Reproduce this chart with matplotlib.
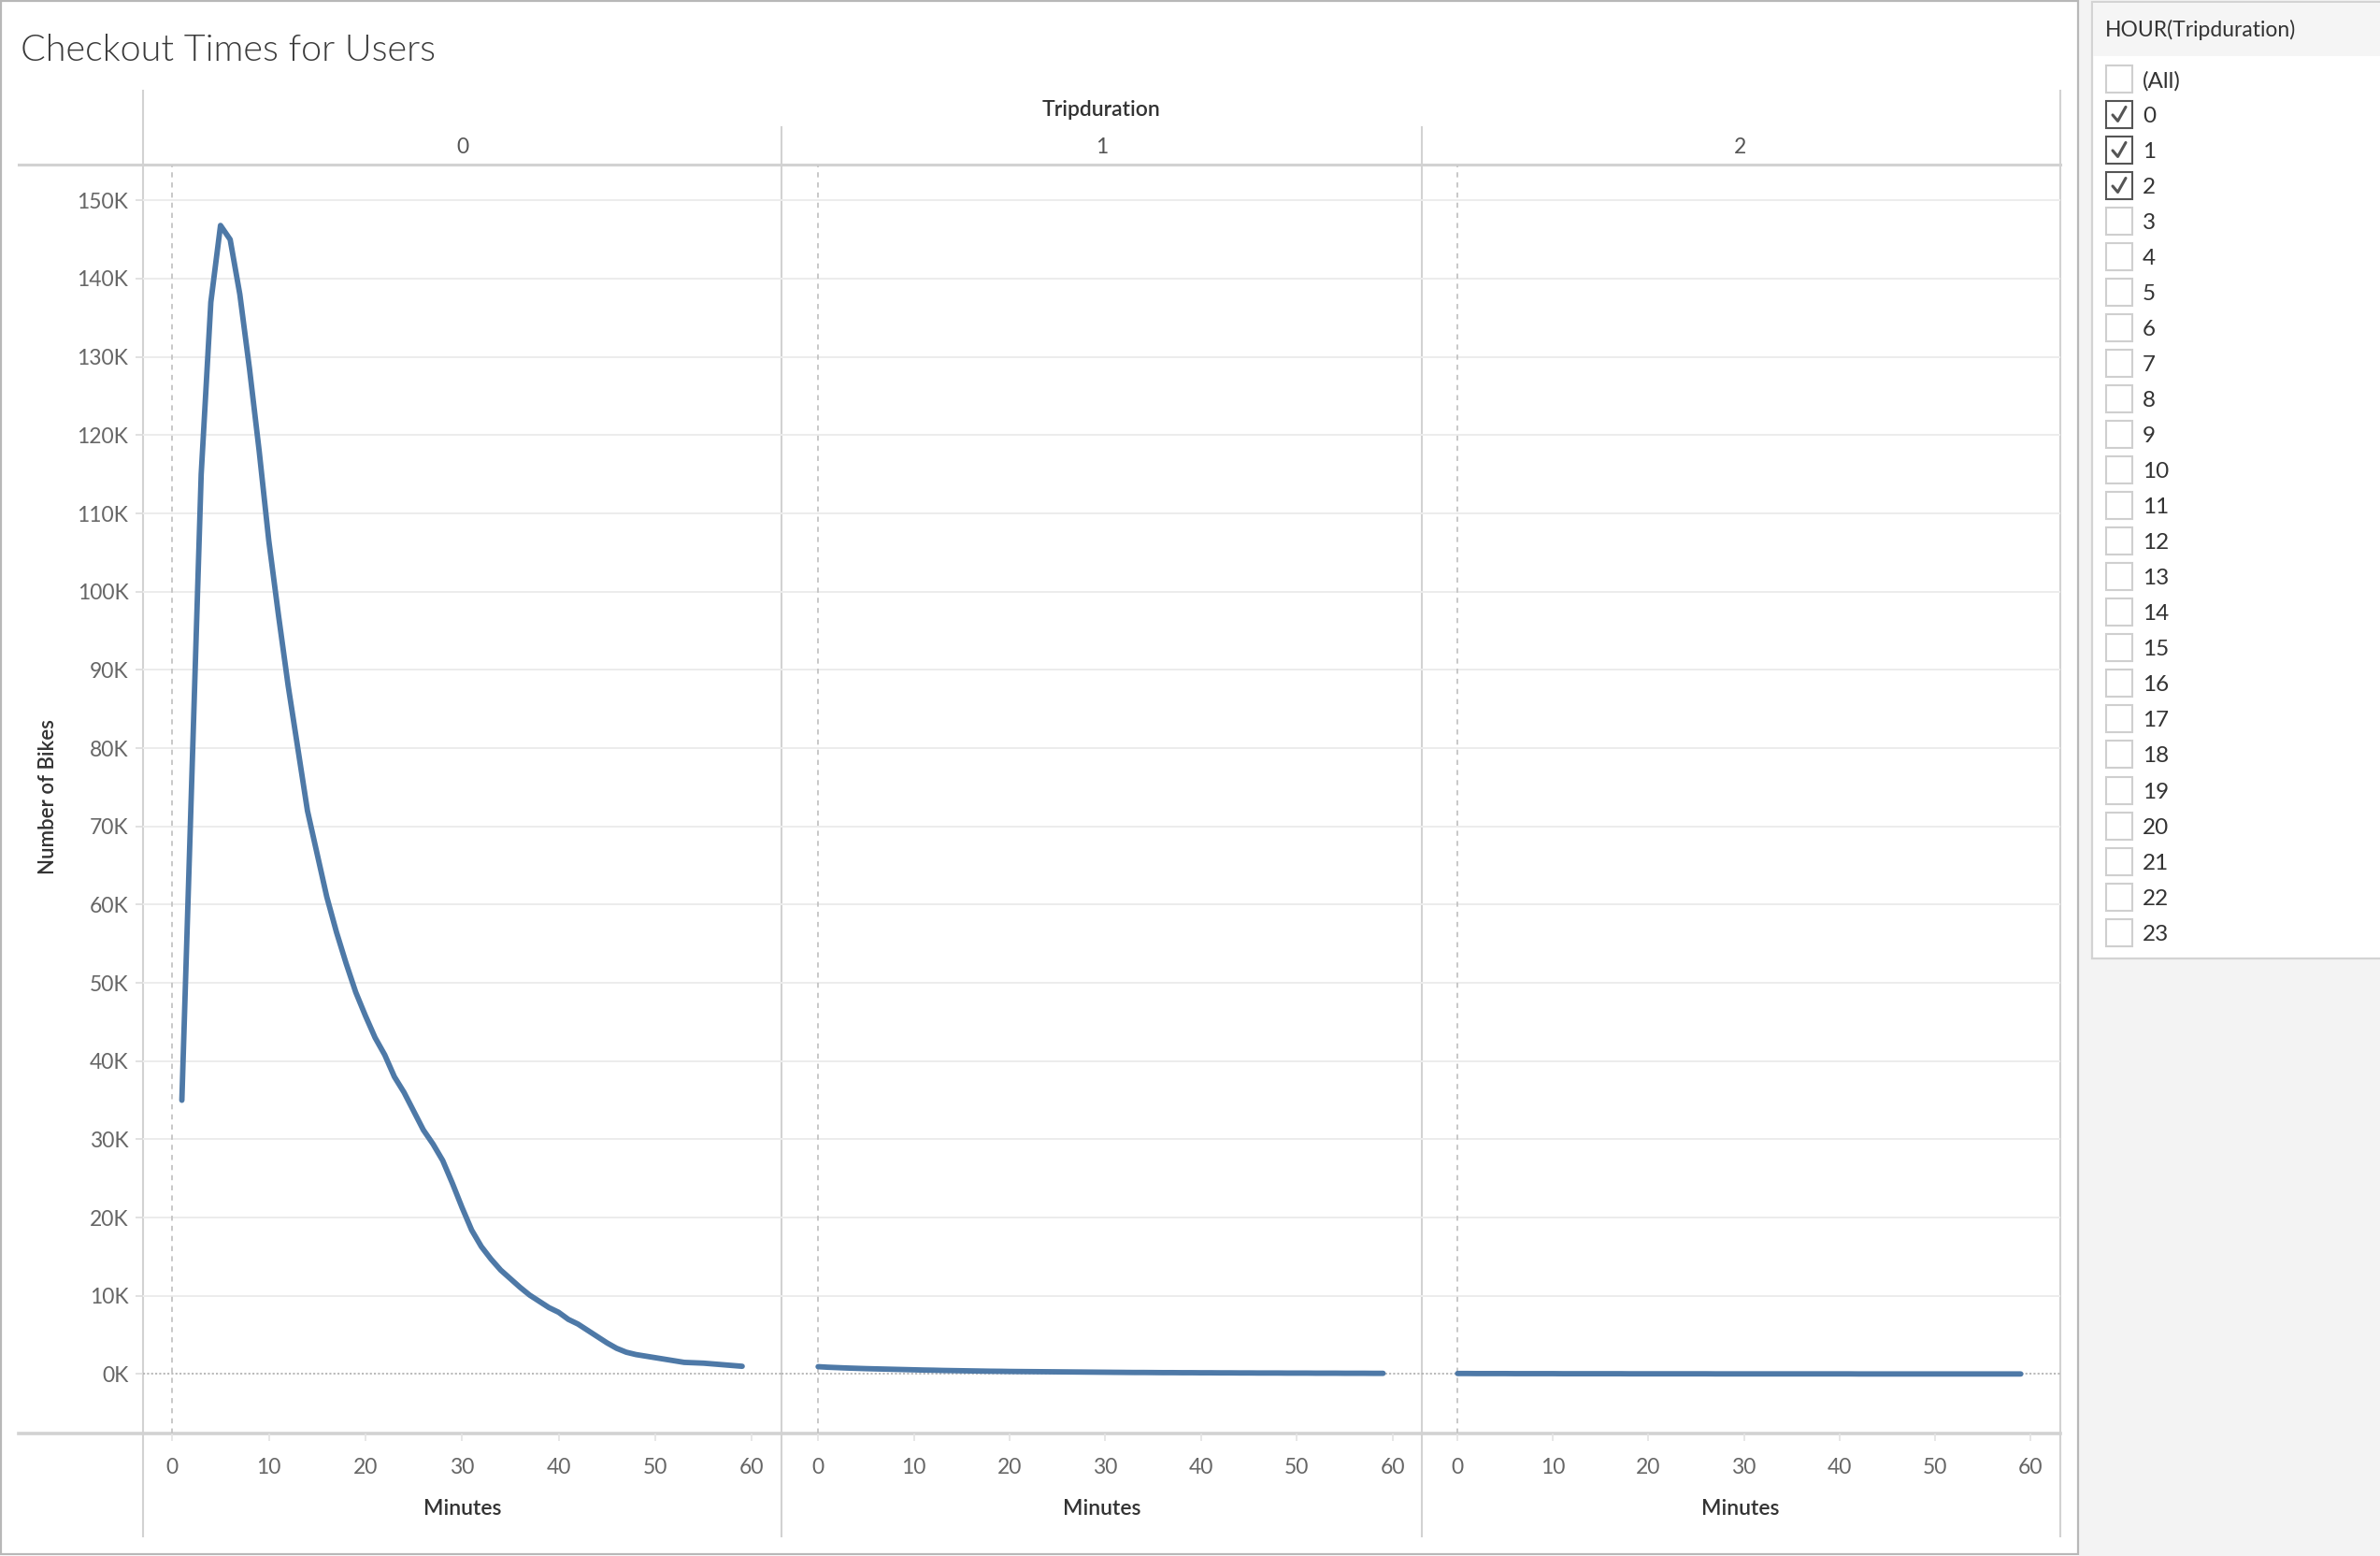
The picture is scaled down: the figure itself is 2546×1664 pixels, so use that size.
import matplotlib
matplotlib.use("Agg")
import matplotlib.pyplot as plt
from matplotlib.patches import Rectangle
from matplotlib.ticker import FuncFormatter

W, H = 2546, 1664
DPI = 100

# ---------------- data ----------------
title = "Checkout Times for Users"
facet_title = "Tripduration"
facets = ["0", "1", "2"]
x_label = "Minutes"
y_label = "Number of Bikes"
y_ticks_k = [0, 10, 20, 30, 40, 50, 60, 70, 80, 90, 100, 110, 120, 130, 140, 150]
x_ticks = [0, 10, 20, 30, 40, 50, 60]

minutes_h0 = list(range(1, 60))
bikes_h0_k = [35.0, 75.0, 115.0, 137.0, 146.8, 145.0, 138.0, 128.5, 118.0, 106.5,
              97.0, 88.0, 80.0, 72.0, 66.5, 61.0, 56.5, 52.5, 48.8, 45.8,
              43.0, 40.8, 38.0, 36.0, 33.6, 31.2, 29.4, 27.3, 24.4, 21.3,
              18.4, 16.3, 14.7, 13.3, 12.2, 11.1, 10.1, 9.3, 8.5, 7.9,
              7.0, 6.4, 5.6, 4.8, 4.0, 3.3, 2.8, 2.5, 2.3, 2.1,
              1.9, 1.7, 1.5, 1.45, 1.4, 1.3, 1.2, 1.1, 1.0]

minutes_h1 = list(range(0, 60))
bikes_h1_k = [0.95, 0.88, 0.83, 0.78, 0.74, 0.70, 0.67, 0.64, 0.61, 0.58,
              0.55, 0.52, 0.50, 0.47, 0.45, 0.43, 0.41, 0.39, 0.37, 0.36,
              0.34, 0.33, 0.32, 0.31, 0.30, 0.29, 0.28, 0.27, 0.26, 0.25,
              0.24, 0.23, 0.22, 0.21, 0.21, 0.20, 0.19, 0.19, 0.18, 0.18,
              0.17, 0.17, 0.16, 0.16, 0.15, 0.15, 0.14, 0.14, 0.14, 0.13,
              0.13, 0.13, 0.12, 0.12, 0.12, 0.11, 0.11, 0.11, 0.10, 0.10]

minutes_h2 = list(range(0, 60))
bikes_h2_k = [0.08, 0.08, 0.07, 0.07, 0.07, 0.07, 0.06, 0.06, 0.06, 0.06,
              0.06, 0.05, 0.05, 0.05, 0.05, 0.05, 0.05, 0.05, 0.04, 0.04,
              0.04, 0.04, 0.04, 0.04, 0.04, 0.04, 0.04, 0.03, 0.03, 0.03,
              0.03, 0.03, 0.03, 0.03, 0.03, 0.03, 0.03, 0.03, 0.03, 0.03,
              0.03, 0.03, 0.02, 0.02, 0.02, 0.02, 0.02, 0.02, 0.02, 0.02,
              0.02, 0.02, 0.02, 0.02, 0.02, 0.02, 0.02, 0.02, 0.02, 0.02]

filter_title = "HOUR(Tripduration)"
filter_items = ["(All)"] + [str(i) for i in range(24)]
filter_checked = ["0", "1", "2"]

# ---------------- style ----------------
FONT = ["Lato", "DejaVu Sans"]
plt.rcParams["font.family"] = FONT
LINE = "#4e79a7"
GRID = "#ececec"
SEP = "#d2d2d2"
TXT = "#333333"
TICK = "#666666"

fig = plt.figure(figsize=(W / DPI, H / DPI), dpi=DPI, facecolor="white")


def rect(x0, y0, x1, y1):
    return [x0 / W, 1 - y1 / H, (x1 - x0) / W, (y1 - y0) / H]


ov = fig.add_axes([0, 0, 1, 1], zorder=0)
ov.set_xlim(0, W)
ov.set_ylim(H, 0)
ov.axis("off")

# right side background and worksheet frame
ov.add_patch(Rectangle((2224, 0), W - 2224, H, facecolor="#f3f3f3", edgecolor="none"))
ov.add_patch(Rectangle((1, 1), 2222, 1661, facecolor="white", edgecolor="#b8b8b8", lw=1.6))

# title
ov.text(22, 54, title, fontsize=28.5, color="#3a3a3a", fontweight=300, va="center", ha="left")

# header labels
ov.text(1178, 117, facet_title, fontsize=16.5, color=TXT, fontweight="semibold",
        ha="center", va="center")
panel_bounds = [(152.7, 836.3), (836.3, 1520.5), (1520.5, 2203.5)]
for (x0, x1), lab in zip(panel_bounds, facets):
    ov.text((x0 + x1) / 2, 158, lab, fontsize=16.5, color="#555555", ha="center", va="center")
    ov.text((x0 + x1) / 2, 1614, x_label, fontsize=16.5, color=TXT, fontweight="semibold",
            ha="center", va="center")

# structure lines
ov.plot([20, 2203.5], [176, 176], color=SEP, lw=2.2)
ov.plot([20, 2203.5], [1533, 1533], color=SEP, lw=2.6)
ov.plot([152.7, 152.7], [97, 1643], color=SEP, lw=1.5)
ov.plot([2203.5, 2203.5], [97, 1643], color=SEP, lw=1.5)
for xs in (836.3, 1520.5):
    ov.plot([xs, xs], [136, 1643], color=SEP, lw=1.5)

ov.text(52, 852, y_label, fontsize=16, color=TXT, fontweight="semibold", rotation=90,
        ha="center", va="center")

# ---------------- panels ----------------
series = [(minutes_h0, bikes_h0_k), (minutes_h1, bikes_h1_k), (minutes_h2, bikes_h2_k)]
xlims = [(-3.05, 63.1), (-3.8, 63.0), (-3.8, 63.1)]
for i, ((x0, x1), (mx, vy), xl) in enumerate(zip(panel_bounds, series, xlims)):
    ax = fig.add_axes(rect(x0, 177, x1, 1533), zorder=2)
    ax.patch.set_alpha(0)
    ax.set_xlim(*xl)
    ax.set_ylim(-7.59, 154.46)
    for s in ax.spines.values():
        s.set_visible(False)
    for t in y_ticks_k:
        if t == 0:
            ax.axhline(t, color="#b4b4b4", lw=1.3, ls=(0, (1.2, 1.2)), zorder=1)
        else:
            ax.axhline(t, color=GRID, lw=1.4, zorder=0)
    ax.axvline(0, color="#c4c4c4", lw=1.3, ls=(0, (3, 3)), zorder=1)
    ax.plot(mx, vy, color=LINE, lw=4.2, solid_capstyle="round", solid_joinstyle="round", zorder=3)
    ax.set_xticks(x_ticks)
    ax.tick_params(axis="x", length=6, width=1.2, color="#e3e3e3", pad=13,
                   labelsize=16.5, labelcolor=TICK)
    if i == 0:
        ax.set_yticks(y_ticks_k)
        ax.yaxis.set_major_formatter(FuncFormatter(lambda v, p: f"{int(v)}K"))
        ax.tick_params(axis="y", length=6, width=1.2, color="#dcdcdc", pad=5,
                       labelsize=16.5, labelcolor=TICK)
    else:
        ax.set_yticks([])

# ---------------- filter card ----------------
fx0 = 2238
ov.add_patch(Rectangle((fx0, 2), W - fx0 + 5, 1023, facecolor="white", edgecolor="#d3d3d3", lw=1.6))
ov.add_patch(Rectangle((fx0 + 1, 3), W - fx0 + 3, 57, facecolor="#f5f5f5", edgecolor="none"))
ov.text(2252, 32, filter_title, fontsize=16.5, color=TXT, ha="left", va="center")
row0, dy = 84.4, 38.03
for k, item in enumerate(filter_items):
    yc = row0 + k * dy
    checked = item in filter_checked
    ov.add_patch(Rectangle((2253, yc - 14.5), 28, 29, facecolor="white",
                           edgecolor="#555555" if checked else "#cfcfcf", lw=1.5))
    if checked:
        ov.plot([2260, 2265.5, 2274], [yc + 0.5, yc + 7, yc - 8], color="#555555",
                lw=2.2, solid_capstyle="round", solid_joinstyle="round")
    ov.text(2292, yc + 2, item, fontsize=17.5, color=TXT, ha="left", va="center")

fig.savefig("out.png", dpi=DPI, facecolor="white")
